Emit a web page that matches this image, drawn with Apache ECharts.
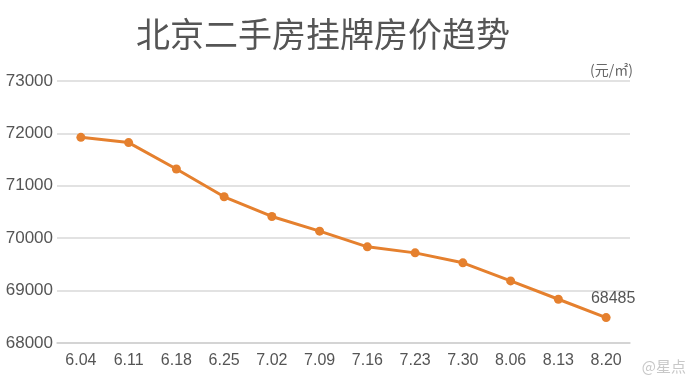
<!DOCTYPE html>
<html><head><meta charset="utf-8">
<script src="https://cdn.jsdelivr.net/npm/echarts@6/dist/echarts.min.js"></script>
<style>html,body{margin:0;padding:0;background:#fff}#c{width:690px;height:382px}</style>
</head><body><div id="c"></div>
<script>
const categories = ['6.04','6.11','6.18','6.25','7.02','7.09','7.16','7.23','7.30','8.06','8.13','8.20'];
const prices = [71925, 71825, 71320, 70790, 70415, 70135, 69835, 69720, 69530, 69185, 68835, 68485];
const yMin = 68000, yMax = 73000, yStep = 1000;
const titleText = '北京二手房挂牌房价趋势';
const unitText = '(元/㎡)';
const watermark = '@星点';

const chart = echarts.init(document.getElementById('c'));
chart.setOption({
  animation: false,
  backgroundColor: '#fff',
  title: { text: titleText, left: 318, top: 12, textAlign: 'center',
    textStyle: { fontFamily: 'Noto Sans CJK SC', fontSize: 34, fontWeight: 'normal', color: '#555' } },
  grid: { left: 57, right: 60, top: 81, bottom: 39 },
  xAxis: { type: 'category', data: categories, boundaryGap: true,
    axisLine: { lineStyle: { color: '#d0d0d0', width: 1.5 } }, axisTick: { show: false },
    axisLabel: { color: '#555', fontSize: 16, fontFamily: 'Liberation Sans', margin: 10, interval: 0 } },
  yAxis: { type: 'value', min: yMin, max: yMax, interval: yStep,
    axisLine: { show: false }, axisTick: { show: false },
    splitLine: { lineStyle: { color: '#d8d8d8', width: 1.5 } },
    axisLabel: { color: '#555', fontSize: 17, fontFamily: 'Liberation Sans', margin: 4, formatter: v => String(v) } },
  graphic: [
    { type: 'text', right: 57, top: 63, style: { text: unitText, fill: '#666', fontSize: 14, fontFamily: 'Noto Sans CJK SC' } },
    { type: 'text', right: 4, bottom: 8, style: { text: watermark, fill: '#c8c8c8', fontSize: 15, fontFamily: 'Noto Sans CJK SC' } }
  ],
  series: [{
    type: 'line', data: prices.map((v, i) => i === prices.length - 1 ? { value: v, label: { show: true } } : v),
    symbol: 'circle', symbolSize: 9,
    itemStyle: { color: '#E5802E' },
    lineStyle: { color: '#E5802E', width: 3 },
    label: { show: false, position: 'top', distance: 6, offset: [7, 0], color: '#555', fontSize: 16, fontFamily: 'Liberation Sans', formatter: p => String(p.value) }
  }]
});
</script></body></html>
